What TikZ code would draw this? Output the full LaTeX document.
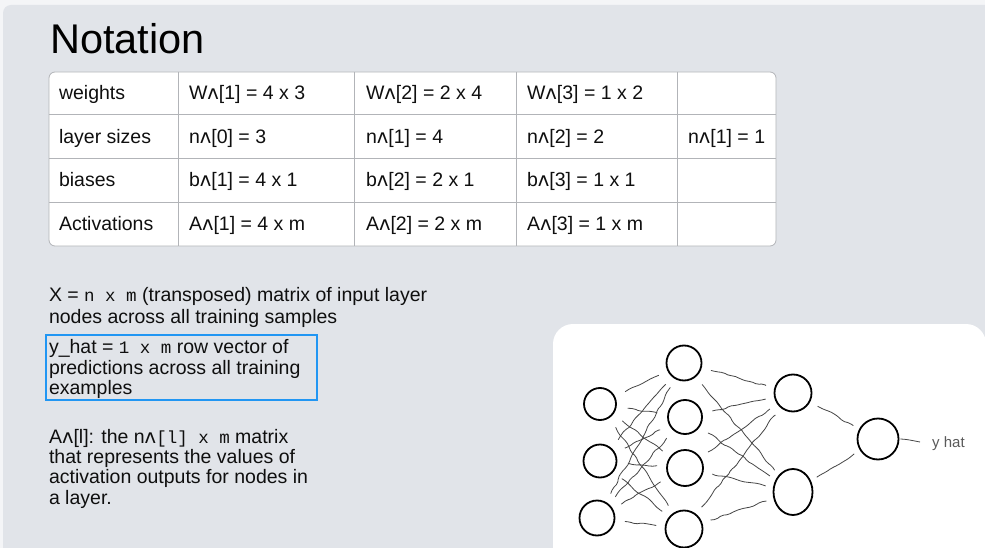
\documentclass[tikz,border=0pt]{standalone}
\usepackage{fontspec}
\setmainfont{Liberation Sans}
\setmonofont{Liberation Mono}
\newfontfamily\djv{DejaVu Sans}
\usetikzlibrary{calc,decorations.pathmorphing,shapes.geometric}
\definecolor{bgtop}{RGB}{244,245,247}
\definecolor{panel}{RGB}{225,228,233}
\definecolor{gridc}{RGB}{178,180,184}
\definecolor{hlblue}{RGB}{33,150,243}
\definecolor{wirec}{RGB}{70,70,70}
\definecolor{ink}{RGB}{15,15,15}
\definecolor{yhatc}{RGB}{90,90,90}
\newcommand{\wdg}{{\djv ʌ}}
\newcommand{\mt}[1]{{\fontsize{17.5pt}{21pt}\selectfont\ttfamily #1}}
\newcommand{\conn}[2]{\draw[wire] ($(#1)!28pt!(#2)$) -- ($(#2)!28pt!(#1)$);}
\begin{document}
\begin{tikzpicture}[x=1pt,y=-1pt,
  body/.style={anchor=base west, inner sep=0pt, outer sep=0pt, text=ink,
    font=\fontsize{19.5pt}{21pt}\selectfont},
  titletext/.style={anchor=base west, inner sep=0pt, text=black,
    font=\fontsize{41.5pt}{44pt}\selectfont},
  neuron/.style={circle, draw=black, line width=1.8pt, inner sep=0pt, fill=white},
  neuronov/.style={ellipse, draw=black, line width=1.8pt, inner sep=0pt, fill=white},
  wire/.style={draw=wirec, line width=0.8pt, rounded corners=2pt, decorate,
    decoration={random steps, segment length=6pt, amplitude=1.3pt}},
  gridline/.style={draw=gridc, line width=0.8pt},
  hlbox/.style={draw=hlblue, line width=2.6pt},
]
\pgfmathsetseed{4242}
\useasboundingbox (0,0) rectangle (985,548);
% backgrounds
\fill[bgtop] (0,0) rectangle (985,548);
\fill[panel, rounded corners=8pt] (3,5) rectangle (1000,570);
\fill[white, rounded corners=20pt] (553,324) rectangle (986,580);

% title
\node[titletext] (title) at (50,53.5) {Notation};

% table
\filldraw[fill=white, gridline, rounded corners=6pt] (49,72) rectangle (776,246);
\foreach \yy in {114,158,202} \draw[gridline] (49,\yy) -- (776,\yy);
\foreach \xx in {178,354,516,677} \draw[gridline] (\xx,72) -- (\xx,246);

\node[body] (c11) at (59,99.3) {weights};
\node[body] (c12) at (189,99.3) {W\wdg[1] = 4 x 3};
\node[body] (c13) at (366,99.3) {W\wdg[2] = 2 x 4};
\node[body] (c14) at (527,99.3) {W\wdg[3] = 1 x 2};

\node[body] (c21) at (59,143.3) {layer sizes};
\node[body] (c22) at (189,143.3) {n\wdg[0] = 3};
\node[body] (c23) at (366,143.3) {n\wdg[1] = 4};
\node[body] (c24) at (527,143.3) {n\wdg[2] = 2};
\node[body] (c25) at (688,143.3) {n\wdg[1] = 1};

\node[body] (c31) at (59,187) {biases};
\node[body] (c32) at (189,187) {b\wdg[1] = 4 x 1};
\node[body] (c33) at (366,187) {b\wdg[2] = 2 x 1};
\node[body] (c34) at (527,187) {b\wdg[3] = 1 x 1};

\node[body] (c41) at (59,230.8) {Activations};
\node[body] (c42) at (189,230.8) {A\wdg[1] = 4 x m};
\node[body] (c43) at (366,230.8) {A\wdg[2] = 2 x m};
\node[body] (c44) at (527,230.8) {A\wdg[3] = 1 x m};

% paragraph X
\node[body] (x1) at (49,301.7) {X = \mt{n x m} (transposed) matrix of input layer};
\node[body] (x2) at (49,323.3) {nodes across all training samples};

% highlighted y_hat box
\draw[hlbox] (46,335) rectangle (317,400);
\node[body] (y1) at (49,353.5) {y\_hat = \mt{1 x m} row vector of};
\node[body] (y2) at (49,374.8) {predictions across all training};
\node[body] (y3) at (49,394.5) {examples};

% paragraph A
\node[body] (a1) at (49,443.3) {A\wdg[l]: the n\wdg\mt{[l] x m} matrix};
\node[body] (a2) at (49,463.5) {that represents the values of};
\node[body] (a3) at (49,483.7) {activation outputs for nodes in};
\node[body] (a4) at (49,504) {a layer.};

% network nodes
\node[neuron, minimum size=32pt] (i1) at (600,404) {};
\node[neuron, minimum size=33pt] (i2) at (600,461) {};
\node[neuron, minimum size=35pt] (i3) at (597,518) {};
\node[neuron, minimum size=35pt] (h1) at (684,363) {};
\node[neuron, minimum size=34pt] (h2) at (685,417) {};
\node[neuron, minimum size=36pt] (h3) at (685,468) {};
\node[neuron, minimum size=37pt] (h4) at (684,529) {};
\node[neuron, minimum size=37pt] (g1) at (793,393) {};
\node[neuronov, minimum width=39pt, minimum height=46pt] (g2) at (793,492) {};
\node[neuron, minimum size=41pt] (out) at (878,439) {};

% connections
\foreach \a in {i1,i2,i3} {\foreach \b in {h1,h2,h3,h4} {\conn{\a}{\b}}}
\foreach \a in {h1,h2,h3,h4} {\foreach \b in {g1,g2} {\conn{\a}{\b}}}
\conn{g1}{out}
\conn{g2}{out}

% output
\coordinate (yend) at (920,442);
\draw[wire] (out.east) ++(1,0) coordinate (ostart) (ostart) -- (yend);
\node[anchor=base west, inner sep=0pt, text=yhatc, font=\fontsize{15pt}{17pt}\selectfont] (yhat) at (932,447.5) {y hat};
\end{tikzpicture}
\end{document}
